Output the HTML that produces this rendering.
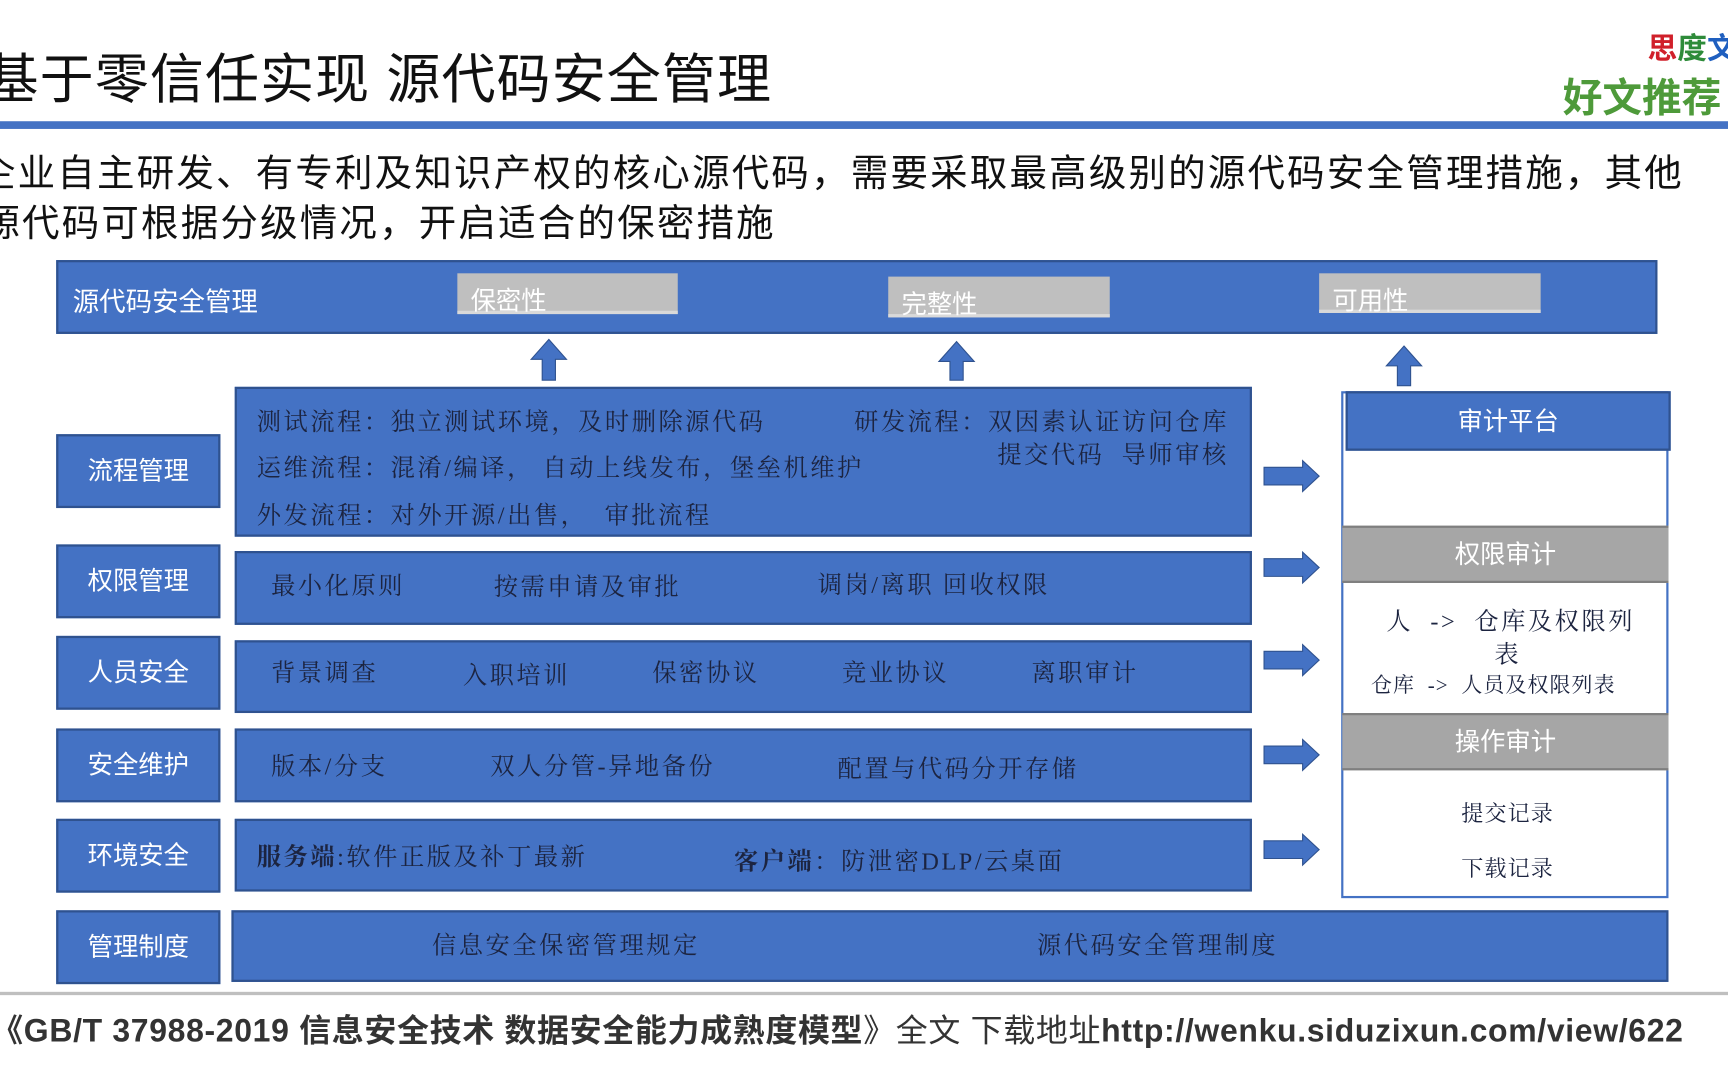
<!DOCTYPE html>
<html><head><meta charset="utf-8"><style>
html,body{margin:0;padding:0;background:#fff;overflow:hidden}
#w{position:relative;width:1568px;height:980px;transform:scale(1.10204);transform-origin:0 0;font-family:"Liberation Sans","Noto Sans CJK SC",sans-serif}
.a{position:absolute;white-space:nowrap}
.b{position:absolute;background:#4472c4;border:2px solid #2f528f;box-sizing:border-box}
.g{position:absolute;background:#bfbfbf;color:#fff;font-size:23px;box-sizing:border-box;padding:6px 12px;border-bottom:3px solid #d9d9d9}
.l{position:absolute;left:51px;width:149px;height:67px;background:#4472c4;border:2px solid #2f528f;box-sizing:border-box;color:#fff;font-size:23px;text-align:center;line-height:63px}
.t{position:absolute;color:#1c2440;font-size:22px;letter-spacing:2.3px;white-space:nowrap;font-family:"Liberation Serif","Noto Serif CJK SC",serif}
</style></head><body><div id="w">
<div class="a" style="left:-14px;top:33px;font-size:49px;letter-spacing:1px;color:#111">基于零信任实现 源代码安全管理</div>
<div class="a" style="left:1495px;top:22px;font-size:27px;font-weight:bold"><span style="color:#d0202a">思</span><span style="color:#2e8b3a">度</span><span style="color:#1f5fbf">文</span></div>
<div class="a" style="left:1418px;top:60px;font-size:36px;font-weight:bold;color:#4e9a3a">好文推荐</div>
<div class="a" style="left:0;top:110px;width:1568px;height:7px;background:#4472c4"></div>
<div class="a" style="left:-20px;top:130px;font-size:34px;letter-spacing:2px;color:#111">企业自主研发、有专利及知识产权的核心源代码，需要采取最高级别的源代码安全管理措施，其他</div>
<div class="a" style="left:-16px;top:175px;font-size:34px;letter-spacing:2px;color:#111">源代码可根据分级情况，开启适合的保密措施</div>

<div class="b" style="left:51px;top:236px;width:1453px;height:67px"></div>
<div class="a" style="left:66px;top:254px;font-size:24px;color:#fff">源代码安全管理</div>
<div class="g" style="left:415px;top:248px;width:200px;height:37px">保密性</div>
<div class="g" style="left:806px;top:251px;width:201px;height:37px">完整性</div>
<div class="g" style="left:1197px;top:248px;width:201px;height:36px">可用性</div>

<svg class="a" style="left:0;top:0" width="1568" height="980">
<g fill="#4472c4" stroke="#2f528f" stroke-width="1">
<polygon points="498,308 514,326 504,326 504,345 492,345 492,326 482,326"/>
<polygon points="868,310 884,328 874,328 874,345 862,345 862,328 852,328"/>
<polygon points="1274,314 1290,332 1280,332 1280,350 1268,350 1268,332 1258,332"/>
<polygon points="1147,424 1182,424 1182,418 1197,432 1182,446 1182,440 1147,440"/>
<polygon points="1147,507 1182,507 1182,501 1197,515 1182,529 1182,523 1147,523"/>
<polygon points="1147,591 1182,591 1182,585 1197,599 1182,613 1182,607 1147,607"/>
<polygon points="1147,677 1182,677 1182,671 1197,685 1182,699 1182,693 1147,693"/>
<polygon points="1147,763 1182,763 1182,757 1197,771 1182,785 1182,779 1147,779"/>
</g>
</svg>

<div class="l" style="top:394px">流程管理</div>
<div class="l" style="top:494px">权限管理</div>
<div class="l" style="top:577px">人员安全</div>
<div class="l" style="top:661px">安全维护</div>
<div class="l" style="top:743px">环境安全</div>
<div class="l" style="top:826px">管理制度</div>

<div class="b" style="left:213px;top:351px;width:923px;height:136px"></div>
<div class="t" style="left:233px;top:366px">测试流程：独立测试环境，及时删除源代码</div>
<div class="t" style="left:775px;top:366px">研发流程：双因素认证访问仓库</div>
<div class="t" style="left:905px;top:396px">提交代码&nbsp;&nbsp;导师审核</div>
<div class="t" style="left:233px;top:408px">运维流程：混淆/编译，&nbsp;自动上线发布，堡垒机维护</div>
<div class="t" style="left:233px;top:451px">外发流程：对外开源/出售，&nbsp;&nbsp;审批流程</div>

<div class="b" style="left:213px;top:500px;width:923px;height:67px"></div>
<div class="t" style="left:246px;top:515px">最小化原则</div>
<div class="t" style="left:448px;top:516px">按需申请及审批</div>
<div class="t" style="left:742px;top:514px">调岗/离职 回收权限</div>

<div class="b" style="left:213px;top:581px;width:923px;height:66px"></div>
<div class="t" style="left:246px;top:594px">背景调查</div>
<div class="t" style="left:420px;top:596px">入职培训</div>
<div class="t" style="left:592px;top:594px">保密协议</div>
<div class="t" style="left:764px;top:594px">竞业协议</div>
<div class="t" style="left:936px;top:594px">离职审计</div>

<div class="b" style="left:213px;top:661px;width:923px;height:67px"></div>
<div class="t" style="left:246px;top:679px">版本/分支</div>
<div class="t" style="left:445px;top:679px">双人分管-异地备份</div>
<div class="t" style="left:760px;top:681px">配置与代码分开存储</div>

<div class="b" style="left:213px;top:743px;width:923px;height:66px"></div>
<div class="t" style="left:233px;top:761px"><b>服务端</b>:软件正版及补丁最新</div>
<div class="t" style="left:666px;top:765px"><b>客户端</b>：防泄密DLP/云桌面</div>

<div class="b" style="left:210px;top:826px;width:1304px;height:65px"></div>
<div class="t" style="left:392px;top:841px">信息安全保密管理规定</div>
<div class="t" style="left:941px;top:841px">源代码安全管理制度</div>

<div class="a" style="left:1217px;top:355px;width:297px;height:460px;border:2px solid #4472c4;box-sizing:border-box;background:#fff"></div>
<div class="b" style="left:1221px;top:355px;width:295px;height:54px;color:#fff;font-size:23px;text-align:center;line-height:50px">审计平台</div>
<div class="a" style="left:1218px;top:477px;width:296px;height:52px;background:#a6a6a6;border-top:2px solid #7f7f7f;border-bottom:2px solid #7f7f7f;box-sizing:border-box;color:#fff;font-size:23px;text-align:center;line-height:48px">权限审计</div>
<div class="t" style="left:1258px;top:547px">人&nbsp;&nbsp;-&gt;&nbsp;&nbsp;仓库及权限列</div>
<div class="t" style="left:1356px;top:577px">表</div>
<div class="t" style="left:1244px;top:607px;font-size:19px;letter-spacing:1px">仓库&nbsp;&nbsp;-&gt;&nbsp;&nbsp;人员及权限列表</div>
<div class="a" style="left:1218px;top:647px;width:296px;height:52px;background:#a6a6a6;border-top:2px solid #7f7f7f;border-bottom:2px solid #7f7f7f;box-sizing:border-box;color:#fff;font-size:23px;text-align:center;line-height:48px">操作审计</div>
<div class="t" style="left:1326px;top:722px;font-size:20px;letter-spacing:1px">提交记录</div>
<div class="t" style="left:1326px;top:772px;font-size:20px;letter-spacing:1px">下载记录</div>

<div class="a" style="left:0;top:900px;width:1568px;height:3px;background:#bfbfbf"></div>
<div class="a" style="left:-8px;top:912px;font-size:29px;letter-spacing:0.6px;color:#333"><b>《GB/T 37988-2019 信息安全技术 数据安全能力成熟度模型</b>》全文 下载地址<b>http://wenku.siduzixun.com/view/622</b></div>
</div></body></html>
